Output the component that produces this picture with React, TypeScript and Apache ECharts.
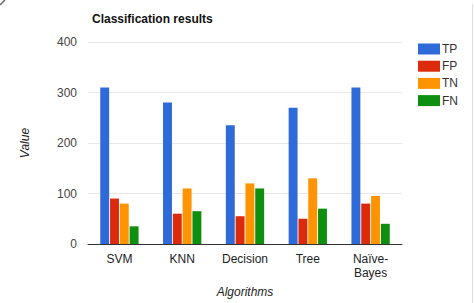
import React, { useEffect, useRef } from "react";
import * as echarts from "echarts";

const categories = ["SVM", "KNN", "Decision", "Tree", "Naïve-\nBayes"];
const seriesNames = ["TP", "FP", "TN", "FN"];
const tpValues = [310, 280, 235, 270, 310];
const fpValues = [90, 60, 55, 50, 80];
const tnValues = [80, 110, 120, 130, 95];
const fnValues = [35, 65, 110, 70, 40];
const yTicks = [0, 100, 200, 300, 400];
const colors = ["#2f6ad9", "#dc2a0c", "#ff9400", "#0f8f0f"];

export default function App() {
  const ref = useRef<HTMLDivElement>(null);
  useEffect(() => {
    if (!ref.current) return;
    const chart = echarts.init(ref.current, undefined, { renderer: "svg" });
    const values = [tpValues, fpValues, tnValues, fnValues];
    const font = "Liberation Sans, Arial, sans-serif";
    chart.setOption({
      animation: false,
      backgroundColor: "#ffffff",
      color: colors,
      textStyle: { fontFamily: font },
      title: {
        text: "Classification results",
        left: 87,
        top: 8,
        textStyle: { fontSize: 12, fontWeight: "bold", color: "#111", fontFamily: font },
      },
      legend: {
        orient: "vertical",
        left: 413,
        top: 38,
        itemWidth: 22,
        itemHeight: 11,
        itemGap: 5.2,
        icon: "rect",
        data: seriesNames,
        textStyle: { fontSize: 12, color: "#333", fontFamily: font, padding: [0, 0, 0, -3] },
      },
      grid: { left: 88, right: 72, top: 42, bottom: 58, containLabel: false },
      xAxis: {
        type: "category",
        data: categories,
        name: "Algorithms",
        nameLocation: "middle",
        nameGap: 42,
        nameTextStyle: { fontStyle: "italic", fontSize: 12, color: "#222", fontFamily: font },
        axisLine: { lineStyle: { color: "#333", width: 1 } },
        axisTick: { show: false },
        axisLabel: { fontSize: 12, color: "#222", margin: 8, lineHeight: 14, fontFamily: font },
      },
      yAxis: {
        type: "value",
        min: yTicks[0],
        max: yTicks[yTicks.length - 1],
        interval: 100,
        name: "Value",
        nameLocation: "middle",
        nameGap: 57,
        nameTextStyle: { fontStyle: "italic", fontSize: 12, color: "#222", fontFamily: font },
        axisLine: { show: false },
        axisTick: { show: false },
        axisLabel: { fontSize: 12, color: "#444", margin: 11, fontFamily: font },
        splitLine: { lineStyle: { color: "#e8e8e8", width: 1 } },
      },
      series: seriesNames.map((name, i) => ({
        name,
        type: "bar",
        data: values[i],
        barGap: "10%",
        barCategoryGap: "39%",
        itemStyle: { color: colors[i] },
      })),
      graphic: [
        {
          type: "line",
          shape: { x1: 472.5, y1: 4, x2: 472.5, y2: 303 },
          style: { stroke: "#dcdcdc", lineWidth: 1 },
        },
        {
          type: "line",
          shape: { x1: 0, y1: 5, x2: 5, y2: 0 },
          style: { stroke: "#666", lineWidth: 1.5 },
        },
      ],
    });
    return () => chart.dispose();
  }, []);
  return (
    <div
      ref={ref}
      style={{ position: "fixed", left: 0, top: 0, width: 474, height: 303 }}
    />
  );
}
